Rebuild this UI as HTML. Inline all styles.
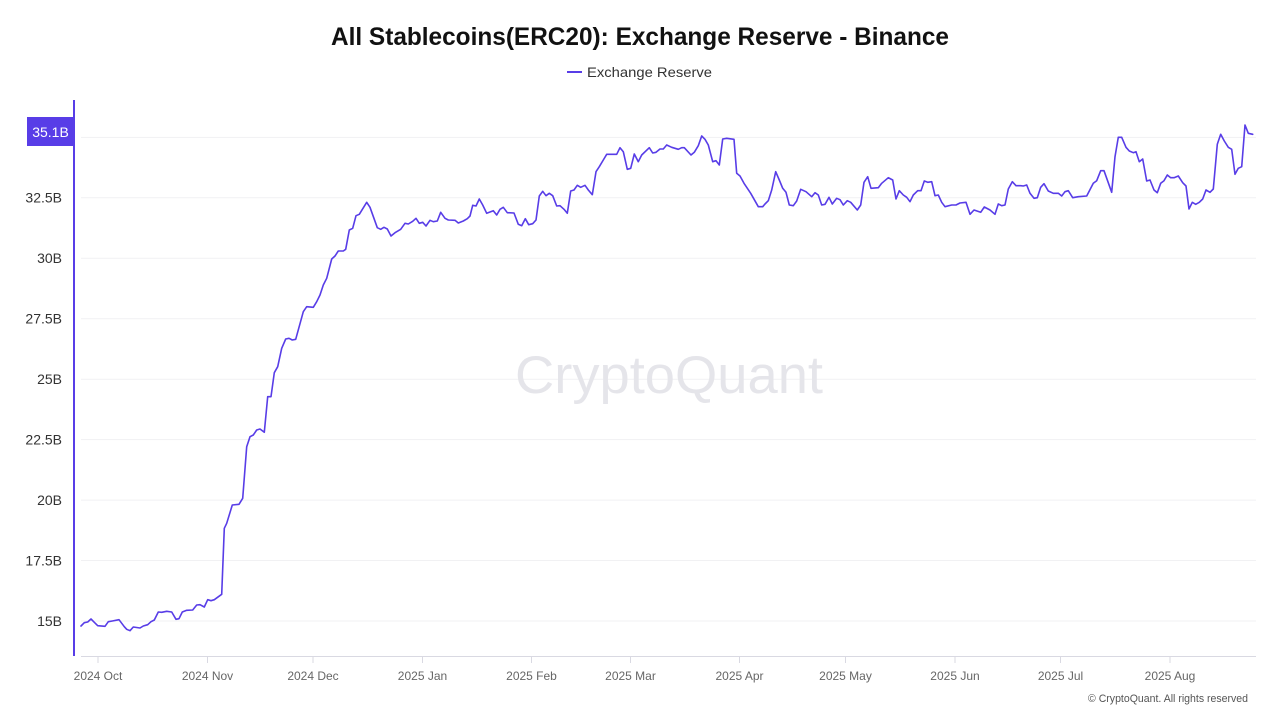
<!DOCTYPE html>
<html>
<head>
<meta charset="utf-8">
<style>
  html,body{margin:0;padding:0;background:#fff;}
  body{width:1280px;height:720px;overflow:hidden;}
  svg{display:block;font-family:"Liberation Sans",Arial,sans-serif;}
</style>
</head>
<body>
<svg width="1280" height="720" viewBox="0 0 1280 720" xmlns="http://www.w3.org/2000/svg">
  <rect x="0" y="0" width="1280" height="720" fill="#ffffff"/>

  <!-- Title -->
  <text x="640" y="45" text-anchor="middle" font-size="25" font-weight="bold" fill="#111" textLength="618" lengthAdjust="spacingAndGlyphs">All Stablecoins(ERC20): Exchange Reserve - Binance</text>

  <!-- Legend -->
  <line x1="567" y1="72" x2="582" y2="72" stroke="#583de7" stroke-width="2"/>
  <text x="587" y="77" font-size="14" fill="#333" textLength="125" lengthAdjust="spacingAndGlyphs">Exchange Reserve</text>

  <!-- Gridlines -->
  <g stroke="#f1f1f3" stroke-width="1">
    <line x1="81" y1="621" x2="1256" y2="621"/>
    <line x1="81" y1="560.5" x2="1256" y2="560.5"/>
    <line x1="81" y1="500.1" x2="1256" y2="500.1"/>
    <line x1="81" y1="439.6" x2="1256" y2="439.6"/>
    <line x1="81" y1="379.2" x2="1256" y2="379.2"/>
    <line x1="81" y1="318.7" x2="1256" y2="318.7"/>
    <line x1="81" y1="258.3" x2="1256" y2="258.3"/>
    <line x1="81" y1="197.8" x2="1256" y2="197.8"/>
    <line x1="81" y1="137.4" x2="1256" y2="137.4"/>
  </g>

  <!-- Watermark -->
  <text x="515" y="393" font-size="53" fill="#e5e5ea" textLength="308" lengthAdjust="spacingAndGlyphs">CryptoQuant</text>

  <!-- Y labels -->
  <g font-size="14" fill="#333" text-anchor="end">
    <text x="62" y="626">15B</text>
    <text x="62" y="565.5">17.5B</text>
    <text x="62" y="505">20B</text>
    <text x="62" y="444.5">22.5B</text>
    <text x="62" y="384">25B</text>
    <text x="62" y="323.5">27.5B</text>
    <text x="62" y="263">30B</text>
    <text x="62" y="202.5">32.5B</text>
  </g>

  <!-- X axis -->
  <line x1="81" y1="656.5" x2="1256" y2="656.5" stroke="#d9d9e2" stroke-width="1"/>
  <g stroke="#d9d9e2" stroke-width="1">
    <line x1="98" y1="656" x2="98" y2="663"/>
    <line x1="207.5" y1="656" x2="207.5" y2="663"/>
    <line x1="313" y1="656" x2="313" y2="663"/>
    <line x1="422.5" y1="656" x2="422.5" y2="663"/>
    <line x1="531.5" y1="656" x2="531.5" y2="663"/>
    <line x1="630.5" y1="656" x2="630.5" y2="663"/>
    <line x1="739.5" y1="656" x2="739.5" y2="663"/>
    <line x1="845.5" y1="656" x2="845.5" y2="663"/>
    <line x1="955" y1="656" x2="955" y2="663"/>
    <line x1="1060.5" y1="656" x2="1060.5" y2="663"/>
    <line x1="1170" y1="656" x2="1170" y2="663"/>
  </g>
  <g font-size="12" fill="#666" text-anchor="middle">
    <text x="98" y="680">2024 Oct</text>
    <text x="207.5" y="680">2024 Nov</text>
    <text x="313" y="680">2024 Dec</text>
    <text x="422.5" y="680">2025 Jan</text>
    <text x="531.5" y="680">2025 Feb</text>
    <text x="630.5" y="680">2025 Mar</text>
    <text x="739.5" y="680">2025 Apr</text>
    <text x="845.5" y="680">2025 May</text>
    <text x="955" y="680">2025 Jun</text>
    <text x="1060.5" y="680">2025 Jul</text>
    <text x="1170" y="680">2025 Aug</text>
  </g>

  <!-- Copyright -->
  <text x="1088" y="702" font-size="11" fill="#555" textLength="160" lengthAdjust="spacingAndGlyphs">© CryptoQuant. All rights reserved</text>

  <!-- Series -->
  <polyline fill="none" stroke="#583de7" stroke-width="1.6" stroke-linejoin="round" stroke-linecap="round" points="81,626 84.3,622.7 87.7,622 91,619 94.3,622.3 97.7,625.7 105,626.3 108.3,621.7 112.3,621 119,619.7 124.3,626.7 126.7,629.3 130,630.7 133.3,627 140,628 143.3,626 147.7,624.7 151,621.7 154.3,620 158.3,612 161.7,612.3 166.7,611.3 171.7,612 176,619.3 179,618.7 182.3,612 186.7,610.3 192.7,610 196.7,605 200,604.7 204.3,607 207.7,599.7 211,600.7 214.3,599.7 221.7,594.3 224.3,528.3 226.7,523.3 232.3,505 239,504.3 242.7,498.3 246.7,446.7 250,436.7 253.3,435 256.7,430 260,429 264.3,432.3 267.7,396.7 271,396.7 274.3,372.7 277.7,366.7 281.7,348.3 285.7,339 289,338.3 292.3,340 295.7,339.3 303.3,311.7 306.7,306.7 313.3,307.3 316.7,301.7 320,295 323.3,285 326.7,278.3 331.7,259 335,256 338.3,251 343.3,251 345.7,249.3 349.3,230 352.7,228.3 356,215.7 359.3,214.3 366.7,202.3 370,207.3 377.3,227.7 380.7,229.3 384,227.3 387.3,229 391,236 395,232.7 400.7,229.3 405,223.3 408.3,224 412.7,221.3 416,218.3 419.3,223.3 422.7,222.3 426,226 430,220.3 433.3,221.7 437.3,221 440.7,212.3 445,218.3 448.3,220 455,220.3 458.3,223 463.3,221 467.3,218.7 470,216 472.7,205.3 476,206 479.3,199 482.7,205 486.7,213.3 493.3,210.7 496.7,215 500,209.3 503.3,207.3 507.3,212.7 514,213 518.3,224.3 521.7,225.7 525.3,218.7 528.7,224.7 532.7,223.7 536,220 539.3,196 542.7,191.3 546,195.7 549.3,193.3 552.7,195.7 556.7,206 560,205.7 564,209.3 567.3,213.3 570.7,191 574,190 577.3,185.3 580.7,187.3 585,185.3 588.3,190 592.3,194.7 596,171.7 599.3,166.7 603.3,160 606.7,154.3 616.7,154.3 620,147.7 623.3,151.7 627.3,169.3 630.7,168.3 634.3,154 638.3,161.7 641.7,155 649.3,147.7 652.7,153 656,152.3 660,149 663.3,149 666.7,145 671.7,147.3 678.3,149.3 681.7,147.7 684.3,147.7 691,155 694.3,152.3 698.3,145.7 701.7,136 705,139.3 708.3,145 712.7,161.7 716,160.7 719.3,165 722.7,139 726.7,138.3 734,139.3 736.7,173.3 740,176 744,183.3 750.7,193.3 758.3,206.7 762.7,206.7 765,204 768.3,200.7 771.7,190 775.7,171.7 779.3,180 782.7,188.3 786,192.3 789.3,205 793.3,205.7 796.7,201 800.7,189.3 806,191.7 811.7,196.7 815,192.7 818.3,195 821.7,205 825,204.3 829,197.3 832.3,204 836.7,198.3 840,199.7 843.3,205 847.3,200.7 850.7,202.3 857.3,210 860.7,205 864,182.3 867.7,176.7 871,188.3 878.3,187.7 881.7,183.3 888.3,177.7 892.7,180 896,199 899.3,190.7 903.3,195 906.7,197.3 910,201.7 913.3,195 917.7,190.7 921,190.7 924.3,181 927.7,182.3 931.7,181.7 935,195.7 938.3,195 941.7,202.3 945,206.7 951.7,205 956,205 960,203 966,202.3 970,214.3 974,210 980.7,212.3 984.3,207 990,210 995,214.3 998.3,204 1001.7,205.7 1005,205 1008.3,189 1012.3,181.7 1016,185.7 1020.7,185.7 1023.3,186 1026.7,185 1030,193.3 1034,198.3 1037.3,197.7 1040.7,187.3 1044,183.7 1048.3,191 1053.3,193.3 1058.3,193.3 1061.7,196 1065,191.7 1068.3,190.7 1072.7,197.7 1078.3,196.7 1086.7,196 1093.3,183.3 1096.7,180.7 1100.7,170.7 1104,170.7 1111.7,192.3 1115,156.7 1118.3,137.3 1121.7,137.3 1126,147.3 1129.3,151 1133.3,152.7 1136,151.7 1139.3,161.7 1142.7,159 1146.7,181 1150,180 1154,190 1157.3,192.7 1160.7,183.3 1164,180.7 1167.3,175 1170.7,177.7 1174,177.7 1178.3,176 1182.7,182.7 1186,186 1189,209 1192.3,202.3 1195.7,204.3 1199.3,202.3 1202.7,199 1206,190 1210,192.3 1213.3,189 1217.3,144.3 1220.7,134.3 1224.3,141 1228.3,147.3 1231.7,149.3 1235,174.3 1238.3,168.3 1241.7,166.7 1245,125 1248.3,133.3 1252.7,134.3"/>

  <!-- Y axis line -->
  <line x1="74" y1="100" x2="74" y2="656" stroke="#583de7" stroke-width="2"/>

  <!-- Current value label -->
  <rect x="27" y="117" width="47" height="29" fill="#583de7"/>
  <text x="50.5" y="137" font-size="14" fill="#ffffff" text-anchor="middle">35.1B</text>
</svg>
</body>
</html>
